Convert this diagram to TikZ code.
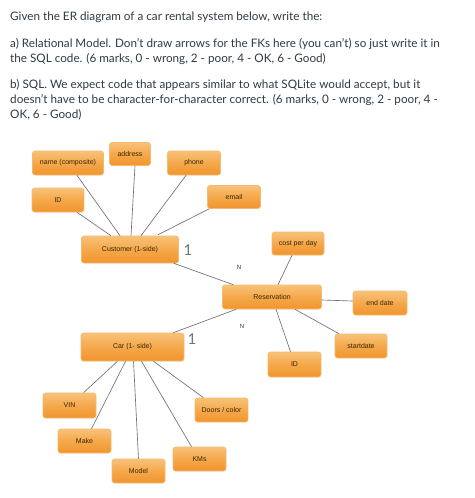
\documentclass[tikz,border=0pt]{standalone}
\usepackage{fontspec}
\setmainfont{Lato}
\newfontfamily\boxfont{Liberation Sans}
\usetikzlibrary{positioning,calc}
\definecolor{boxtop}{HTML}{F8C27A}
\definecolor{boxmid}{HTML}{F5A84A}
\definecolor{boxbot}{HTML}{F0952E}
\definecolor{boxline}{HTML}{F6BA6E}
\definecolor{boxtext}{HTML}{3A2608}
\definecolor{linkcol}{HTML}{707070}
\definecolor{headtext}{HTML}{2D3B45}
\tikzset{
  erbox/.style={rectangle, rounded corners=2.5pt, draw=boxline, line width=0.6pt,
    top color=boxtop, bottom color=boxbot, middle color=boxmid,
    font=\boxfont\fontsize{7}{8}\selectfont, text=boxtext,
    minimum width=53pt, minimum height=24pt, inner sep=1pt},
  link/.style={draw=linkcol, line width=0.65pt},
  headline/.style={anchor=west, inner sep=0pt, text=headtext, font=\fontsize{11.7}{13}\selectfont},
  card/.style={font=\boxfont\fontsize{6}{6}\selectfont, text=black!80, inner sep=0pt},
  hand/.style={font=\fontsize{15}{15}\selectfont, text=black!55, inner sep=0pt}
}
\begin{document}
\begin{tikzpicture}[x=1pt,y=-1pt]
\useasboundingbox (0,0) rectangle (474,498);
\fill[white] (0,0) rectangle (474,498);
% header text
\node[headline] (h1) at (10,17) {Given the ER diagram of a car rental system below, write the:};
\node[headline] (h2) at (10,44) {a) Relational Model. Don't draw arrows for the FKs here (you can't) so just write it in};
\node[headline] (h3) at (10,59.5) {the SQL code. (6 marks, 0 - wrong, 2 - poor, 4 - OK, 6 - Good)};
\node[headline] (h4) at (10,85) {b) SQL. We expect code that appears similar to what SQLite would accept, but it};
\node[headline] (h5) at (10,100) {doesn't have to be character-for-character correct. (6 marks, 0 - wrong, 2 - poor, 4 -};
\node[headline] (h6) at (10,115) {OK, 6 - Good)};
% customer entity and attributes
\node[erbox, minimum width=71pt] (name) at (68,163) {name (composite)};
\node[erbox, minimum width=41pt, minimum height=23pt] (addr) at (130,154) {address};
\node[erbox] (phone) at (194,163) {phone};
\node[erbox, minimum width=52pt] (cid) at (58,200) {ID};
\node[erbox, minimum height=23pt] (email) at (234,197) {email};
\node[erbox, minimum width=97pt, minimum height=27pt] (cust) at (130,249.5) {Customer (1-side)};
% reservation
\node[erbox, minimum width=52pt, minimum height=23pt] (cost) at (298,243.5) {cost per day};
\node[erbox, minimum width=99pt] (res) at (272,297) {Reservation};
\node[erbox, minimum width=54pt] (enddate) at (380,303) {end date};
\node[erbox, minimum width=52pt] (start) at (361,346) {startdate};
\node[erbox, minimum height=25pt] (rid) at (294.5,364.5) {ID};
% car
\node[erbox, minimum width=103pt, minimum height=28pt] (car) at (132.5,347) {Car (1- side)};
\node[erbox, minimum height=25pt] (vin) at (69.5,405.5) {VIN};
\node[erbox] (make) at (84.5,441) {Make};
\node[erbox] (model) at (138.5,471) {Model};
\node[erbox] (kms) at (199.5,459) {KMs};
\node[erbox] (doors) at (221.5,410) {Doors / color};
% cardinalities
\node[card] (n1) at (239,267) {N};
\node[card] (n2) at (242,326) {N};
\node[hand] (one1) at (188,250) {1};
\node[hand] (one2) at (192,339) {1};
% customer links
\draw[link] ([xshift=19pt]cid.south) -- ([xshift=-19pt]cust.north);
\draw[link] ([xshift=9pt]name.south) -- ([xshift=-10pt]cust.north);
\draw[link] ([xshift=5pt]addr.south) -- ([xshift=1pt]cust.north);
\draw[link] ([xshift=-8pt]phone.south) -- ([xshift=11pt]cust.north);
\draw[link] ([xshift=2pt]email.south west) -- ([xshift=28pt,yshift=1pt]cust.north);
\draw[link] ([xshift=-5pt]cust.south east) -- ([xshift=11pt]res.north west);
% reservation links
\draw[link] ([xshift=-6pt]cost.south) -- ([xshift=6pt]res.north);
\draw[link] ([yshift=-3pt]res.east) -- ([yshift=2pt]enddate.west);
\draw[link] ([xshift=23pt]res.south) -- ([xshift=-22pt]start.north);
\draw[link] ([xshift=4pt]res.south) -- ([xshift=-4pt]rid.north);
\draw[link] ([xshift=14pt]res.south west) -- ([xshift=-11pt]car.north east);
% car links
\draw[link] ([xshift=-15pt]car.south) -- ([xshift=14pt]vin.north);
\draw[link] ([xshift=-7pt]car.south) -- ([xshift=7pt]make.north);
\draw[link] ([xshift=1pt]car.south) -- (model.north);
\draw[link] ([xshift=9pt]car.south) -- ([xshift=-8pt]kms.north);
\draw[link] ([xshift=21pt]car.south) -- ([xshift=-18pt]doors.north);
\end{tikzpicture}
\end{document}
